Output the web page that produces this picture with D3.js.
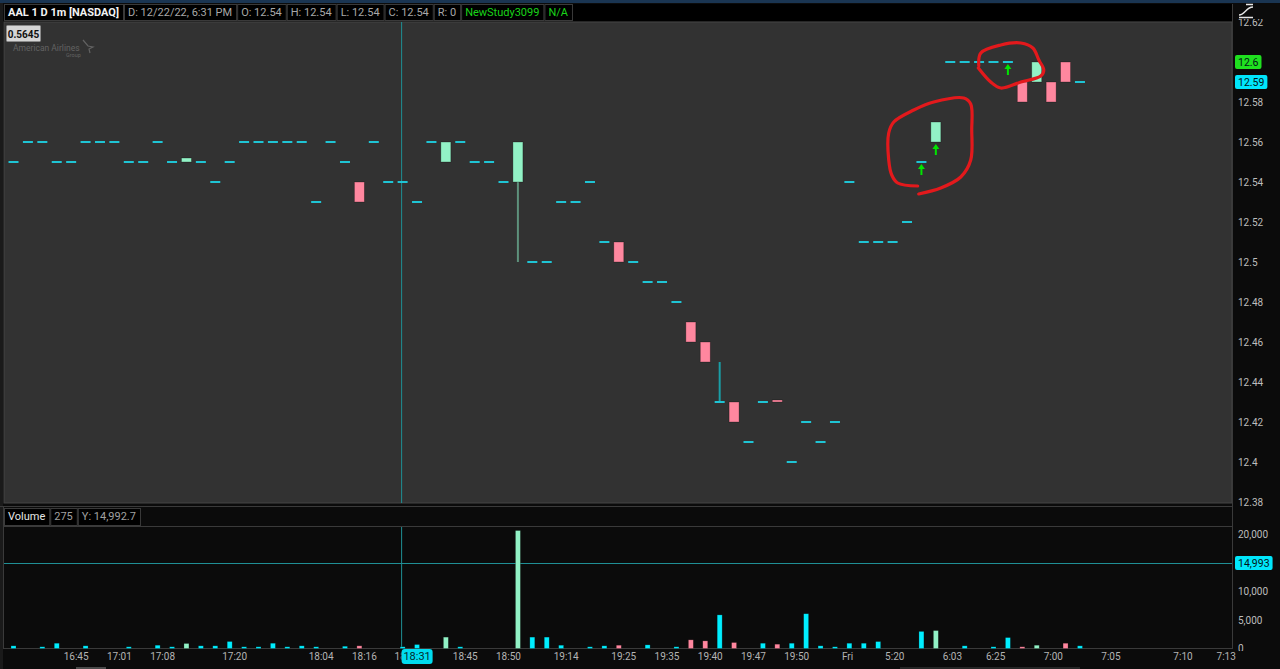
<!DOCTYPE html>
<html>
<head>
<meta charset="utf-8">
<script src="https://cdn.jsdelivr.net/npm/d3@7"></script>
<style>
  html, body { margin: 0; padding: 0; background: #0b0b0b; overflow: hidden; }
  #chart { width: 1280px; height: 669px; }
</style>
</head>
<body>
<div id="chart"></div>
<script>
// 1m bars, index 0..74 (extended hours, empty minutes skipped)
const opens = [
	12.55, 12.56, 12.56, 12.55, 12.55, 12.56, 12.56, 12.56, 12.55, 12.55,
	12.56, 12.55, 12.55, 12.55, 12.54, 12.55, 12.56, 12.56, 12.56, 12.56,
	12.56, 12.53, 12.56, 12.55, 12.54, 12.56, 12.54, 12.54, 12.53, 12.56,
	12.55, 12.56, 12.55, 12.55, 12.54, 12.54, 12.50, 12.50, 12.53, 12.53,
	12.54, 12.51, 12.51, 12.50, 12.49, 12.49, 12.48, 12.47, 12.46, 12.43,
	12.43, 12.41, 12.43, 12.431, 12.40, 12.42, 12.41, 12.42, 12.54, 12.51,
	12.51, 12.51, 12.52, 12.55, 12.56, 12.60, 12.60, 12.60, 12.60, 12.60,
	12.59, 12.59, 12.59, 12.60, 12.59
];
const highs = [
	12.55, 12.56, 12.56, 12.55, 12.55, 12.56, 12.56, 12.56, 12.55, 12.55,
	12.56, 12.55, 12.552, 12.55, 12.54, 12.55, 12.56, 12.56, 12.56, 12.56,
	12.56, 12.53, 12.56, 12.55, 12.54, 12.56, 12.54, 12.54, 12.53, 12.56,
	12.56, 12.56, 12.55, 12.55, 12.54, 12.56, 12.50, 12.50, 12.53, 12.53,
	12.54, 12.51, 12.51, 12.50, 12.49, 12.49, 12.48, 12.47, 12.46, 12.45,
	12.43, 12.41, 12.43, 12.431, 12.40, 12.42, 12.41, 12.42, 12.54, 12.51,
	12.51, 12.51, 12.52, 12.55, 12.57, 12.60, 12.60, 12.60, 12.60, 12.60,
	12.59, 12.60, 12.59, 12.60, 12.59
];
const lows = [
	12.55, 12.56, 12.56, 12.55, 12.55, 12.56, 12.56, 12.56, 12.55, 12.55,
	12.56, 12.55, 12.55, 12.55, 12.54, 12.55, 12.56, 12.56, 12.56, 12.56,
	12.56, 12.53, 12.56, 12.55, 12.53, 12.56, 12.54, 12.54, 12.53, 12.56,
	12.55, 12.56, 12.55, 12.55, 12.54, 12.50, 12.50, 12.50, 12.53, 12.53,
	12.54, 12.51, 12.50, 12.50, 12.49, 12.49, 12.48, 12.46, 12.45, 12.43,
	12.42, 12.41, 12.43, 12.43, 12.40, 12.42, 12.41, 12.42, 12.54, 12.51,
	12.51, 12.51, 12.52, 12.55, 12.56, 12.60, 12.60, 12.60, 12.60, 12.60,
	12.58, 12.59, 12.58, 12.59, 12.59
];
const closes = [
	12.55, 12.56, 12.56, 12.55, 12.55, 12.56, 12.56, 12.56, 12.55, 12.55,
	12.56, 12.55, 12.552, 12.55, 12.54, 12.55, 12.56, 12.56, 12.56, 12.56,
	12.56, 12.53, 12.56, 12.55, 12.53, 12.56, 12.54, 12.54, 12.53, 12.56,
	12.56, 12.56, 12.55, 12.55, 12.54, 12.56, 12.50, 12.50, 12.53, 12.53,
	12.54, 12.51, 12.50, 12.50, 12.49, 12.49, 12.48, 12.46, 12.45, 12.43,
	12.42, 12.41, 12.43, 12.43, 12.40, 12.42, 12.41, 12.42, 12.54, 12.51,
	12.51, 12.51, 12.52, 12.55, 12.57, 12.60, 12.60, 12.60, 12.60, 12.60,
	12.58, 12.60, 12.58, 12.59, 12.59
];
const volumes = [
	470, 0, 300, 930, 0, 470, 0, 0, 300, 0,
	580, 300, 880, 470, 470, 1230, 300, 300, 930, 300,
	470, 300, 0, 400, 470, 0, 0, 300, 700, 0,
	2000, 300, 0, 0, 0, 20700, 2000, 2000, 580, 0,
	300, 470, 580, 0, 640, 0, 300, 1520, 1340, 5900,
	1050, 0, 930, 760, 930, 6100, 470, 300, 930, 930,
	1220, 0, 0, 3000, 3150, 0, 470, 0, 300, 1920,
	300, 580, 0, 930, 470
];

const tickIdx = [4, 7, 10, 15, 21, 24, 27, 31, 34, 38, 42, 45, 48, 51, 54, 58, 61, 65, 68, 72, 76, 81, 84];
const tickLabels = ['16:45', '17:01', '17:08', '17:20', '18:04', '18:16', '18:31', '18:45', '18:50', '19:14', '19:25',
	'19:35', '19:40', '19:47', '19:50', 'Fri', '5:20', '6:03', '6:25', '7:00', '7:05', '7:10', '7:13'];
const priceTicks = [12.62, 12.6, 12.58, 12.56, 12.54, 12.52, 12.5, 12.48, 12.46, 12.44, 12.42, 12.4, 12.38];
const volTicks = [20000, 10000, 5000, 0];

const headerItems = ['AAL 1 D 1m [NASDAQ]', 'D: 12/22/22, 6:31 PM', 'O: 12.54', 'H: 12.54', 'L: 12.54', 'C: 12.54', 'R: 0', 'NewStudy3099', 'N/A'];
const volHeaderItems = ['Volume', '275', 'Y: 14,992.7'];
const cornerValue = '0.5645';
const lastPrice = 12.59;
const studyValue = 12.6;
const cursorIdx = 27;
const cursorTime = '18:31';
const cursorVol = 14992.7;
const cursorVolLabel = '14,993';
const signalIdx = [63, 64, 69];

// hand-drawn red marks, as [bar index, price]
const markA = [[62.74, 12.538], [61.35, 12.5395], [60.94, 12.5435], [60.73, 12.551], [60.73, 12.5645], [61.08, 12.570],
	[62.47, 12.576], [63.85, 12.580], [65.94, 12.582], [66.42, 12.579], [66.49, 12.566], [66.42, 12.551],
	[65.73, 12.5425], [64.34, 12.537], [62.81, 12.534]];
const markB = [[66.98, 12.598], [67.12, 12.6045], [68.51, 12.6085], [69.9, 12.6095], [70.73, 12.607], [71.15, 12.601],
	[71.49, 12.596], [71.28, 12.593], [69.9, 12.590], [68.51, 12.587], [67.81, 12.590], [66.95, 12.597]];

const font = 'Roboto, "Open Sans", sans-serif';
const colors = {
	up: '#92f2c6',
	down: '#ff879f',
	flat: '#1fc4d4',
	volFlat: '#00eeff',
	wickUp: '#5e917c',
	wickFlat: '#1a9ea6',
	cursor: '#1f8f95',
	border: '#3a3a3a'
};

const svg = d3.select('#chart')
	.append('svg')
		.attr('width', 1280)
		.attr('height', 669)
		.style('display', 'block')
		.style('background', '#0b0b0b');

const pane = { left: 4, right: 1232, top: 22, bottom: 503 };
const vol = { top: 527, bottom: 648 };

const x = d3.scaleLinear()
	.domain([-0.66, 84.55])
	.range([pane.left, pane.right]);

const yPrice = d3.scaleLinear()
	.domain([12.3795, 12.62])
	.range([pane.bottom, pane.top]);

const yVol = d3.scaleLinear()
	.domain([0, 20000])
	.range([648.5, 534.5]);

const bars = opens.map((o, i) => ({
	i, o, h: highs[i], l: lows[i], c: closes[i], v: volumes[i],
	dir: closes[i] > o ? 'up' : closes[i] < o ? 'down' : 'flat'
}));

// frame
svg.append('rect').attr('x', 0).attr('y', 0).attr('width', 1280).attr('height', 3).attr('fill', '#1a3552');
svg.append('rect').attr('x', 0).attr('y', 3).attr('width', 3).attr('height', 666).attr('fill', '#1a1a1a');
svg.append('rect').attr('x', 4).attr('y', 4).attr('width', pane.right - 4).attr('height', 17).attr('fill', '#000');

svg.append('rect')
	.attr('x', pane.left).attr('y', pane.top)
	.attr('width', pane.right - pane.left).attr('height', pane.bottom - pane.top)
	.attr('fill', '#323232')
	.attr('stroke', '#454545');

svg.append('line').attr('x1', 0).attr('x2', 1233).attr('y1', 506.5).attr('y2', 506.5).attr('stroke', colors.border);
svg.append('line').attr('x1', 4).attr('x2', 1233).attr('y1', 526.5).attr('y2', 526.5).attr('stroke', colors.border);
svg.append('line').attr('x1', 4).attr('x2', 1233).attr('y1', 648.5).attr('y2', 648.5).attr('stroke', colors.border);
svg.append('line').attr('x1', 1232.5).attr('x2', 1232.5).attr('y1', 4).attr('y2', 649).attr('stroke', colors.border);
svg.append('line').attr('x1', 3.5).attr('x2', 3.5).attr('y1', 506).attr('y2', 649).attr('stroke', colors.border);

// header cells
const drawCells = (items, top, h, fillOf, weightOf) => {
	let cx = 4;
	const g = svg.append('g').style('font-family', font).style('font-size', '11px');
	items.forEach((t, k) => {
		const rect = g.append('rect');
		const label = g.append('text')
			.attr('x', cx + 4)
			.attr('y', top + h / 2)
			.attr('dy', '0.36em')
			.attr('fill', fillOf(k))
			.style('font-weight', weightOf(k))
			.text(t);
		const w = label.node().getComputedTextLength() + 8;
		rect.attr('x', cx + 0.5).attr('y', top + 0.5)
			.attr('width', w).attr('height', h)
			.attr('fill', '#000')
			.attr('stroke', colors.border);
		cx += w + 1;
	});
};

drawCells(headerItems, 4, 16,
	k => k === 0 ? '#f2f2f2' : k >= 7 ? '#19d419' : '#a8a8a8',
	k => k === 0 ? 'bold' : 'normal');
drawCells(volHeaderItems, 508, 17,
	k => k === 0 ? '#e6e6e6' : '#a0a0a0',
	() => 'normal');

// corner value box + watermark
svg.append('rect').attr('x', 6.5).attr('y', 25.5).attr('width', 34).attr('height', 16)
	.attr('fill', '#d6d6d6').attr('stroke', '#8a8a8a').attr('rx', 1);
svg.append('text').attr('x', 23.5).attr('y', 34).attr('dy', '0.35em')
	.attr('text-anchor', 'middle')
	.style('font-family', font).style('font-size', '10px').style('font-weight', 'bold')
	.attr('fill', '#111').text(cornerValue);
svg.append('text').attr('x', 13).attr('y', 51)
	.style('font-family', font).style('font-size', '8.5px')
	.attr('fill', '#626262').text('American Airlines');
svg.append('text').attr('x', 66).attr('y', 57)
	.style('font-family', font).style('font-size', '5.5px')
	.attr('fill', '#626262').text('Group');
svg.append('path').attr('d', 'M83,40 L88,46 L93,47 L89,49 L90,53')
	.attr('fill', 'none').attr('stroke', '#626262').attr('stroke-width', 1.2);

// cursor lines
svg.append('line')
	.attr('x1', x(cursorIdx) - 1).attr('x2', x(cursorIdx) - 1)
	.attr('y1', pane.top).attr('y2', pane.bottom)
	.attr('stroke', colors.cursor);
svg.append('line')
	.attr('x1', x(cursorIdx) - 1).attr('x2', x(cursorIdx) - 1)
	.attr('y1', vol.top).attr('y2', vol.bottom)
	.attr('stroke', colors.cursor);
svg.append('line')
	.attr('x1', 4).attr('x2', 1232)
	.attr('y1', Math.round(yVol(cursorVol)) + 0.5).attr('y2', Math.round(yVol(cursorVol)) + 0.5)
	.attr('stroke', colors.cursor);

// candles
const candles = svg.append('g');

candles.selectAll('.wick')
	.data(bars.filter(d => d.h !== d.l))
	.join('line')
		.attr('x1', d => x(d.i)).attr('x2', d => x(d.i))
		.attr('y1', d => yPrice(d.h)).attr('y2', d => yPrice(d.l))
		.attr('stroke', d => d.dir === 'up' ? colors.wickUp : colors.wickFlat)
		.attr('stroke-width', 2);

candles.selectAll('.body')
	.data(bars.filter(d => d.dir !== 'flat'))
	.join('rect')
		.attr('x', d => x(d.i) - 5)
		.attr('y', d => yPrice(Math.max(d.o, d.c)))
		.attr('width', 10)
		.attr('height', d => Math.abs(yPrice(d.o) - yPrice(d.c)))
		.attr('fill', d => colors[d.dir])
		.attr('stroke', 'rgba(0,0,0,0.35)')
		.attr('stroke-width', 0.8);

candles.selectAll('.dash')
	.data(bars.filter(d => d.dir === 'flat'))
	.join('rect')
		.attr('x', d => x(d.i) - 5)
		.attr('y', d => yPrice(d.c) - 1)
		.attr('width', 10)
		.attr('height', 2)
		.attr('fill', colors.flat);

// study arrows
svg.append('g').selectAll('path')
	.data(signalIdx)
	.join('path')
		.attr('d', i => {
			const cx = x(i);
			const t = yPrice(lows[i]) + 2;
			return `M${cx},${t} L${cx - 3.5},${t + 5} L${cx - 1},${t + 5} L${cx - 1},${t + 11} L${cx + 1},${t + 11} L${cx + 1},${t + 5} L${cx + 3.5},${t + 5} Z`;
		})
		.attr('fill', '#00e600');

// red marks
const markLine = d3.line()
	.x(d => x(d[0]))
	.y(d => yPrice(d[1]))
	.curve(d3.curveCatmullRom);
svg.append('g').selectAll('path')
	.data([markA, markB])
	.join('path')
		.attr('d', markLine)
		.attr('fill', 'none')
		.attr('stroke', '#e3191c')
		.attr('stroke-width', 3.2)
		.attr('stroke-linecap', 'round')
		.attr('stroke-linejoin', 'round');

// volume
svg.append('g').selectAll('rect')
	.data(bars.filter(d => d.v > 0))
	.join('rect')
		.attr('x', d => x(d.i) - 2.5)
		.attr('y', d => yVol(d.v))
		.attr('width', 5)
		.attr('height', d => yVol(0) - yVol(d.v))
		.attr('fill', d => d.dir === 'flat' ? colors.volFlat : colors[d.dir])
		.attr('stroke', 'rgba(0,0,0,0.4)')
		.attr('stroke-width', 0.6);

// axes (clip rects are in the translated axis space)
svg.append('defs').call(defs => {
	defs.append('clipPath').attr('id', 'priceClip')
		.append('rect').attr('x', 0).attr('y', 19).attr('width', 47).attr('height', 488);
	defs.append('clipPath').attr('id', 'volClip')
		.append('rect').attr('x', 0).attr('y', 527).attr('width', 47).attr('height', 124);
	defs.append('clipPath').attr('id', 'underTag')
		.append('rect').attr('x', -20).attr('y', 0).attr('width', 20 + x(cursorIdx) - 1).attr('height', 30);
});

const styleAxis = (g, color) => {
	g.select('.domain').remove();
	g.selectAll('text')
		.attr('fill', color)
		.style('font-family', font)
		.style('font-size', '10px');
};

const yAxis = svg.append('g')
	.attr('transform', 'translate(1233,0)')
	.attr('clip-path', 'url(#priceClip)')
	.call(d3.axisRight(yPrice).tickValues(priceTicks).tickSize(0).tickPadding(5).tickFormat(d => String(d)))
	.call(g => styleAxis(g, '#bdbdbd'));

const vAxis = svg.append('g')
	.attr('transform', 'translate(1233,0)')
	.attr('clip-path', 'url(#volClip)')
	.call(d3.axisRight(yVol).tickValues(volTicks).tickSize(0).tickPadding(5).tickFormat(d3.format(',')))
	.call(g => styleAxis(g, '#bdbdbd'));

const xAxis = svg.append('g')
	.attr('transform', 'translate(0,648)')
	.call(d3.axisBottom(x).tickValues(tickIdx).tickSize(0).tickPadding(5).tickFormat((d, k) => tickLabels[k]))
	.call(g => styleAxis(g, '#b4b4b4'));
xAxis.selectAll('text').attr('text-anchor', 'start').attr('x', -8);
// the label at the cursor bar sits under the time bubble; only its left edge shows
xAxis.selectAll('.tick').filter(d => d === cursorIdx)
	.attr('clip-path', 'url(#underTag)')
	.attr('transform', null)
	.select('text').attr('x', x(cursorIdx) - 8);

// value tags
const tag = (tx, ty, label, fill) => {
	const g = svg.append('g');
	const r = g.append('rect');
	const t = g.append('text')
		.attr('x', tx + 3).attr('y', ty).attr('dy', '0.35em')
		.attr('fill', '#031416')
		.style('font-family', font).style('font-size', '10.5px')
		.text(label);
	const w = t.node().getComputedTextLength() + 6;
	r.attr('x', tx).attr('y', ty - 7).attr('width', w).attr('height', 14)
		.attr('rx', 2).attr('fill', fill);
	return w;
};
tag(1235, yPrice(studyValue), String(studyValue), '#1fe01f');
tag(1235, yPrice(lastPrice), String(lastPrice), '#00e6fb');
tag(1235, yVol(cursorVol), cursorVolLabel, '#00e6fb');

// cursor time bubble
const cg = svg.append('g');
cg.append('rect')
	.attr('x', x(cursorIdx) - 1).attr('y', 649)
	.attr('width', 31).attr('height', 15)
	.attr('rx', 3).attr('fill', '#00dcef');
cg.append('text')
	.attr('x', x(cursorIdx) + 14.5).attr('y', 656.5).attr('dy', '0.36em')
	.attr('text-anchor', 'middle')
	.attr('fill', '#04292d')
	.style('font-family', font).style('font-size', '11px')
	.text(cursorTime);

// top-right icon + scroll slivers
svg.append('path')
	.attr('d', 'M1239,17.5 L1253,17.5 M1239,15 C1245,15 1246,7 1253,7 M1246,4.5 L1253,4.5')
	.attr('fill', 'none').attr('stroke', '#e6e6e6').attr('stroke-width', 1.4);
svg.append('rect').attr('x', 76).attr('y', 667).attr('width', 30).attr('height', 2).attr('fill', '#4a4a4a');
svg.append('rect').attr('x', 900).attr('y', 667).attr('width', 180).attr('height', 2).attr('fill', '#262626');
</script>
</body>
</html>
